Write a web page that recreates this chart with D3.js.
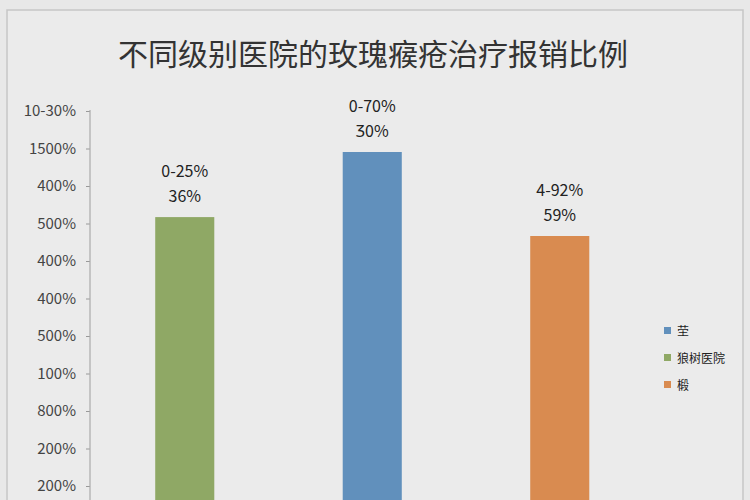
<!DOCTYPE html>
<html><head><meta charset="utf-8">
<script src="https://cdn.jsdelivr.net/npm/d3@7"></script>
<style>
html,body{margin:0;padding:0;background:#e8e8e8;}
svg{display:block;}
text{font-family:"Noto Sans CJK SC","Noto Sans",sans-serif;}
</style></head>
<body>
<script>
const title = "不同级别医院的玫瑰瘊疮治疗报销比例";
const categories = ["狼树医院", "茔", "椴"];
const values = [74.5, 90, 70];
const rangeLabels = ["0-25%", "0-70%", "4-92%"];
const pctLabels = ["36%", "Ʒ0%", "59%"];
const colors = ["#8fa865", "#6190bc", "#d98b50"];
const tickLabels = ["10-30%", "1500%", "400%", "500%", "400%", "400%", "500%", "100%", "800%", "200%", "200%"];
const legendItems = ["茔", "狼树医院", "椴"];
const legendColors = ["#6190bc", "#8fa865", "#d98b50"];

const W = 750, H = 500;
const svg = d3.select("body").append("svg").attr("width", W).attr("height", H);

// panel
svg.append("rect").attr("x", 7).attr("y", 10).attr("width", 736).attr("height", 520)
  .attr("fill", "#ebebeb").attr("stroke", "#c6c6c6").attr("stroke-width", 1.5);

svg.append("text").attr("x", 373).attr("y", 65).attr("text-anchor", "middle")
  .attr("font-size", 30).attr("fill", "#333").text(title);

const axisX = 90;
const x = d3.scaleBand().domain(categories).range([91, 653.5]).paddingInner(0.685).paddingOuter(0.3425);
const y = d3.scaleLinear().domain([0, 100]).range([530, 110]);

// tick axis
const yt = d3.scalePoint().domain(d3.range(tickLabels.length)).range([111, 486]);
const ax = svg.append("g").attr("transform", `translate(${axisX},0)`)
  .call(d3.axisLeft(yt).tickSize(4).tickPadding(10).tickFormat(i => tickLabels[i]));
ax.select(".domain").remove();
ax.selectAll(".tick line").attr("stroke", "#999");
ax.selectAll(".tick text").attr("font-size", 15).attr("fill", "#444")
  .attr("font-family", "'Open Sans','Noto Sans',sans-serif");
svg.append("line").attr("x1", axisX).attr("x2", axisX).attr("y1", 110).attr("y2", 500)
  .attr("stroke", "#aaa").attr("stroke-width", 1.2);

// bars
svg.selectAll("rect.bar").data(categories).join("rect").attr("class", "bar")
  .attr("x", d => x(d)).attr("width", x.bandwidth())
  .attr("y", (d, i) => y(values[i])).attr("height", (d, i) => y(0) - y(values[i]))
  .attr("fill", (d, i) => colors[i]);

const lab = svg.append("g").attr("font-family", "'Open Sans','DejaVu Sans',sans-serif")
  .attr("font-size", 16).attr("fill", "#222").attr("text-anchor", "middle");
categories.forEach((c, i) => {
  const cx = x(c) + x.bandwidth() / 2;
  lab.append("text").attr("x", cx).attr("y", y(values[i]) - 40).text(rangeLabels[i]);
  lab.append("text").attr("x", cx).attr("y", y(values[i]) - 15).text(pctLabels[i]);
});

// legend
const lg = svg.append("g");
legendItems.forEach((t, i) => {
  const yy = 331 + i * 27;
  lg.append("rect").attr("x", 664).attr("y", yy - 4).attr("width", 7).attr("height", 7).attr("fill", legendColors[i]);
  lg.append("text").attr("x", 677).attr("y", yy + 4.5).attr("font-size", 12).attr("fill", "#222").text(t);
});
</script>
</body></html>
